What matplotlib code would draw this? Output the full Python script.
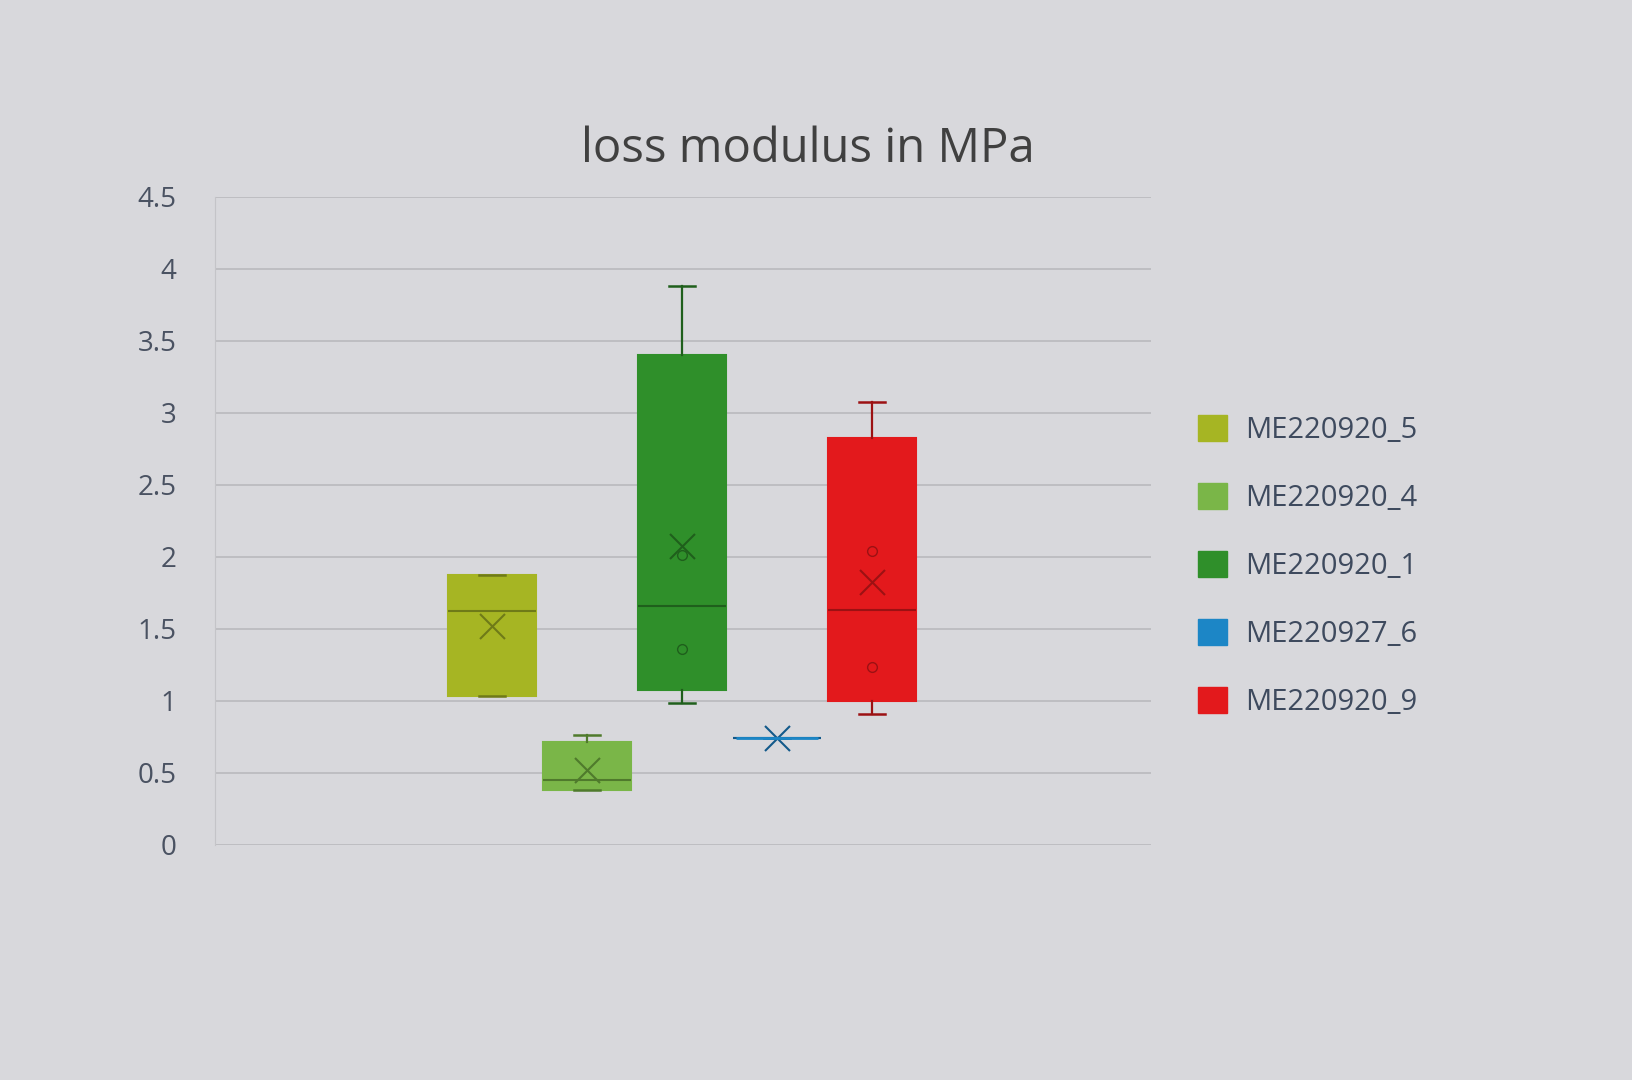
import numpy as np
import matplotlib
matplotlib.use("Agg")
import matplotlib.pyplot as plt
from matplotlib.patches import Patch

# data (values in MPa)
series = ["ME220920_5", "ME220920_4", "ME220920_1", "ME220927_6", "ME220920_9"]
whisker_low = [1.03, 0.38, 0.98, 0.74, 0.91]
q1 = [1.03, 0.38, 1.07, 0.74, 1.00]
median = [1.62, 0.45, 1.66, 0.74, 1.63]
q3 = [1.87, 0.71, 3.40, 0.74, 2.82]
whisker_high = [1.87, 0.76, 3.88, 0.74, 3.07]
mean = [1.52, 0.52, 2.07, 0.74, 1.82]
inner_points = [[], [], [1.36, 2.01], [], [1.23, 2.04]]

colors = ["#a6b523", "#7ab648", "#2f8f2a", "#1c86c6", "#e3191c"]
dark = ["#6f7a18", "#4f7a2c", "#1f5f1c", "#13598a", "#9c1113"]

yticks = [0, 0.5, 1, 1.5, 2, 2.5, 3, 3.5, 4, 4.5]

bg = "#d8d8dc"
fig = plt.figure(figsize=(16.32, 10.8), dpi=100, facecolor=bg)
ax = fig.add_axes([0.132, 0.218, 0.573, 0.600])
ax.set_facecolor(bg)

stats = []
for i in range(len(series)):
    stats.append(dict(label=series[i], whislo=whisker_low[i], q1=q1[i], med=median[i],
                      q3=q3[i], whishi=whisker_high[i], mean=mean[i],
                      fliers=inner_points[i]))

pos = np.arange(1, len(series) + 1)
for i in range(len(series)):
    ax.bxp([stats[i]], positions=[pos[i]], widths=0.92, capwidths=0.27,
           patch_artist=True, showmeans=True, showfliers=True,
           boxprops=dict(facecolor=colors[i], edgecolor=colors[i], linewidth=1.5),
           medianprops=dict(color=dark[i], linewidth=1.5),
           whiskerprops=dict(color=dark[i], linewidth=1.6),
           capprops=dict(color=dark[i], linewidth=1.8),
           meanprops=dict(marker="x", markeredgecolor=dark[i], markersize=18,
                          markeredgewidth=1.5),
           flierprops=dict(marker="o", markerfacecolor="none",
                           markeredgecolor=dark[i], markersize=7, markeredgewidth=1))

# single value series is drawn as a flat line
ax.hlines(median[3], pos[3] - 0.43, pos[3] + 0.43, color=colors[3], linewidth=2, zorder=3)

ax.set_xlim(-1.91, 7.93)
ax.set_ylim(0, 4.5)
ax.set_yticks(yticks)
ax.set_yticklabels([("%g" % v) for v in yticks], fontsize=20, color="#4a5262",
                   family="Open Sans")
ax.set_xticks([])
ax.tick_params(axis="y", length=0, pad=28)
ax.grid(axis="y", color="#b9b9bd", linewidth=1.2)
ax.set_axisbelow(True)
for s in ["top", "right", "bottom"]:
    ax.spines[s].set_visible(False)
ax.spines["left"].set_color("#c4c4c8")

fig.text(0.495, 0.862, "loss modulus in MPa", ha="center", va="center",
         fontsize=34, color="#404040", family="Open Sans")

handles = [Patch(facecolor=colors[i], edgecolor=colors[i]) for i in range(len(series))]
fig.legend(handles, series, loc="upper left", bbox_to_anchor=(0.718, 0.64),
           frameon=False, labelcolor="#3e4a5e", handlelength=1.0,
           handleheight=1.0, handletextpad=0.6, labelspacing=1.3,
           prop=dict(family="Open Sans", size=21))

fig.savefig("out.png", dpi=100, facecolor=bg)
